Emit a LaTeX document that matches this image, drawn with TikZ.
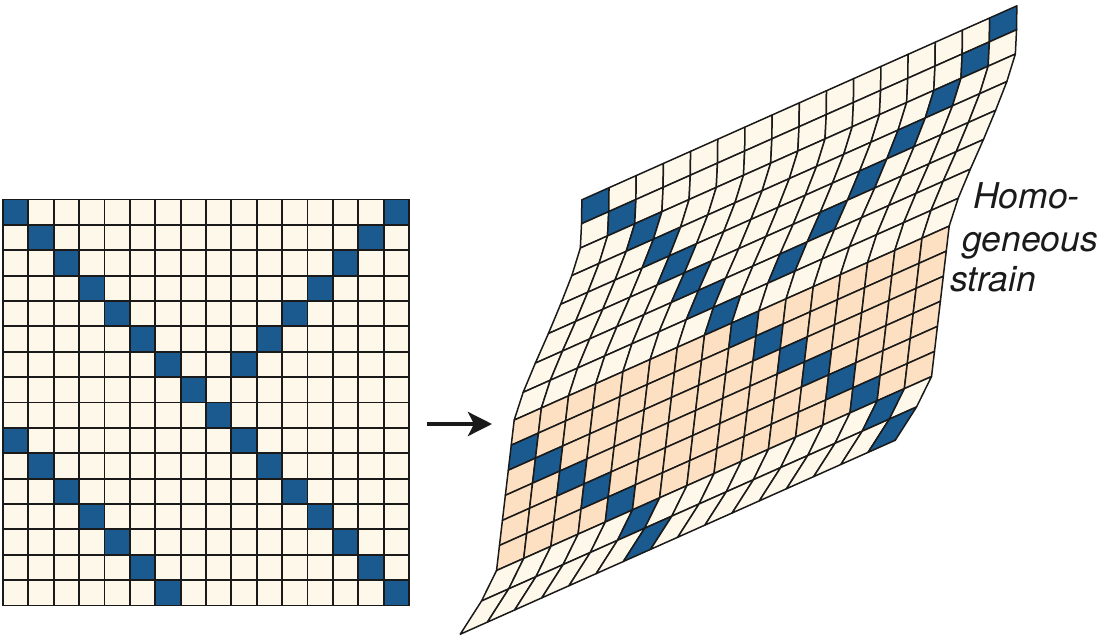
\documentclass[tikz,border=0pt]{standalone}
\usepackage{fontspec}
\setsansfont{TeX Gyre Heros}
\usetikzlibrary{calc,arrows.meta}
\definecolor{creamc}{HTML}{FEF8EA}
\definecolor{bluec}{HTML}{1B5A8E}
\definecolor{orangec}{HTML}{FDE0C2}
\definecolor{linec}{HTML}{1A1A1A}
\begin{document}
\begin{tikzpicture}[x=1pt,y=-1pt,
  gridline/.style={draw=linec,line width=1.8pt,line cap=rect},
  meshcell/.style={draw=linec,line width=1.5pt,line join=round},
  txt/.style={font=\sffamily\itshape\fontsize{35.5}{42}\selectfont,anchor=base west,inner sep=0pt,text=linec},
  bigarrow/.style={draw=linec,line width=4pt,-{Stealth[length=24pt,width=24pt,inset=6pt]}}]
\useasboundingbox (0,0) rectangle (1105,640);

% ---------- left: undeformed grid ----------
\fill[creamc] (3,199.5) rectangle (409,605.5);
\foreach \r in {0,...,15}{
  \pgfmathtruncatemacro\ra{15-\r}
  \pgfmathtruncatemacro\rb{\r-9}
  \fill[bluec] (3+\r*25.375,199.5+\r*25.375) rectangle ++(25.375,25.375);
  \ifnum\r<7 \fill[bluec] (3+\ra*25.375,199.5+\r*25.375) rectangle ++(25.375,25.375);\fi
  \ifnum\r>8 \fill[bluec] (3+\rb*25.375,199.5+\r*25.375) rectangle ++(25.375,25.375);\fi
}
\foreach \k in {0,...,16}{
  \draw[gridline] (3+\k*25.375,199.5) -- (3+\k*25.375,605.5);
  \draw[gridline] (3,199.5+\k*25.375) -- (409,199.5+\k*25.375);
}

% ---------- right: sheared grid ----------
\foreach \j/\t in {0/450,1/440,2/429,3/410,4/388,5/365,6/341,7/318,8/298.5,9/285.6,10/272.7,11/259.8,12/246.9,13/234,14/221.1,15/195,16/162}{
  \pgfmathsetmacro\N{419.5+21.7*\j}
  \pgfmathsetmacro\X{\t*0.91329+\N*0.40731}
  \pgfmathsetmacro\Y{-\t*0.40731+\N*0.91329}
  \coordinate (L\j) at (\X,\Y);
}
\foreach \j in {0,...,15}{
  \pgfmathtruncatemacro\jj{\j+1}
  \pgfmathtruncatemacro\anti{15-\j}
  \pgfmathtruncatemacro\low{\j-9}
  \foreach \i in {0,...,15}{
    \pgfmathsetmacro\ax{\i*27.1875}
    \pgfmathsetmacro\ay{-\i*12.125}
    \pgfmathsetmacro\bx{(\i+1)*27.1875}
    \pgfmathsetmacro\by{-(\i+1)*12.125}
    \def\col{creamc}
    \ifnum\j>7 \ifnum\j<14 \def\col{orangec}\fi\fi
    \ifnum\i=\j \def\col{bluec}\fi
    \ifnum\j<7 \ifnum\i=\anti \def\col{bluec}\fi\fi
    \ifnum\j>8 \ifnum\i=\low \def\col{bluec}\fi\fi
    \filldraw[meshcell,fill=\col] ($(L\j)+(\ax,\ay)$) -- ($(L\j)+(\bx,\by)$) -- ($(L\jj)+(\bx,\by)$) -- ($(L\jj)+(\ax,\ay)$) -- cycle;
  }
}

% ---------- arrow ----------
\coordinate (arrowtail) at (427,424);
\coordinate (arrowtip) at (492,424);
\draw[bigarrow] (arrowtail) -- (arrowtip);

% ---------- label ----------
\node[txt] (t1) at (973,208) {Homo-};
\node[txt] (t2) at (962,251.5) {geneous};
\node[txt] (t3) at (950,291.5) {strain};
\end{tikzpicture}
\end{document}
